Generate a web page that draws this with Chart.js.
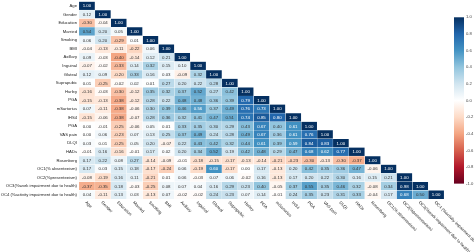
<!DOCTYPE html>
<html><head><meta charset="utf-8">
<script src="https://cdn.jsdelivr.net/npm/chart.js@4.4.0/dist/chart.umd.min.js"></script>
<style>
html,body{margin:0;padding:0;background:#fff;}
#wrap{position:relative;width:474px;height:252px;overflow:hidden;background:#fff;}
#main{position:absolute;left:0;top:0;width:474px;height:252px;}
</style></head><body>
<div id="wrap"><canvas id="main" width="474" height="252"></canvas></div>
<script>
const variables = ["Age","Gender","Education","Married","Smoking","BMI","Axillary","Inguinal","Gluteal","Suprapubic","Hurley","PGA","mSartorius","IHS4","PGA","VAS pain","DLQI","HADs","Rosenberg","OC1(% absenteeism)","OC2(%presenteeism)","OC3(%work impairment due to health)","OC4 (%activity impairment due to health)"];

const rAge = [1.00];
const rGender = [0.12, 1.00];
const rEducation = [-0.30, -0.04, 1.00];
const rMarried = [0.54, 0.20, 0.05, 1.00];
const rSmoking = [0.06, 0.20, -0.29, 0.01, 1.00];
const rBMI = [-0.04, -0.13, -0.11, -0.22, 0.06, 1.00];
const rAxillary = [0.09, -0.03, -0.40, -0.14, 0.12, 0.21, 1.00];
const rInguinal = [-0.07, -0.02, -0.33, 0.14, 0.32, 0.15, 0.10, 1.00];
const rGluteal = [0.12, 0.09, -0.20, 0.33, 0.16, 0.03, -0.09, 0.32, 1.00];
const rSuprapubic = [0.01, -0.25, -0.02, 0.02, 0.01, 0.27, 0.20, 0.22, 0.28, 1.00];
const rHurley = [-0.16, -0.03, -0.30, -0.12, 0.35, 0.32, 0.37, 0.52, 0.27, 0.42, 1.00];
const rPGA1 = [-0.15, -0.13, -0.38, -0.12, 0.28, 0.22, 0.48, 0.48, 0.36, 0.39, 0.79, 1.00];
const rSartorius = [0.07, -0.11, -0.38, -0.06, 0.30, 0.39, 0.46, 0.56, 0.37, 0.49, 0.76, 0.73, 1.00];
const rIHS4 = [-0.15, -0.06, -0.38, -0.07, 0.28, 0.36, 0.32, 0.41, 0.47, 0.51, 0.74, 0.85, 0.80, 1.00];
const rPGA2 = [0.00, -0.01, -0.25, -0.06, 0.05, 0.01, 0.33, 0.35, 0.30, 0.29, 0.43, 0.67, 0.40, 0.61, 1.00];
const rVAS = [0.00, 0.06, -0.23, 0.07, 0.13, 0.25, 0.37, 0.49, 0.24, 0.28, 0.49, 0.67, 0.36, 0.61, 0.76, 1.00];
const rDLQI = [0.03, 0.01, -0.25, 0.05, 0.20, -0.07, 0.22, 0.43, 0.42, 0.32, 0.44, 0.61, 0.39, 0.59, 0.84, 0.83, 1.00];
const rHADs = [-0.01, 0.16, -0.16, -0.01, 0.17, 0.02, 0.20, 0.34, 0.52, 0.19, 0.42, 0.48, 0.29, 0.47, 0.68, 0.62, 0.77, 1.00];
const rRosenberg = [0.17, 0.22, 0.08, 0.27, -0.14, -0.09, -0.01, -0.18, -0.15, -0.17, -0.13, -0.14, -0.21, -0.23, -0.30, -0.13, -0.30, -0.37, 1.00];
const rOC1 = [0.17, 0.03, 0.15, 0.18, -0.17, -0.24, 0.06, -0.19, 0.60, -0.17, 0.00, 0.17, -0.13, 0.20, 0.42, 0.35, 0.36, 0.47, -0.06, 1.00];
const rOC2 = [-0.08, -0.19, 0.16, 0.11, -0.21, 0.01, 0.06, -0.03, 0.07, 0.06, -0.02, 0.16, -0.13, 0.17, 0.20, 0.22, 0.30, 0.16, 0.15, 0.21, 1.00];
const rOC3 = [-0.37, -0.35, 0.18, -0.03, -0.25, 0.08, 0.07, 0.04, 0.16, 0.29, 0.23, 0.40, -0.05, 0.37, 0.55, 0.35, 0.46, 0.32, -0.08, 0.34, 0.98, 1.00];
const rOC4 = [0.04, -0.11, 0.13, 0.03, -0.13, 0.07, -0.02, -0.02, 0.24, 0.23, 0.07, 0.14, -0.01, 0.24, 0.35, 0.23, 0.31, 0.33, -0.04, 0.17, 0.68, 0.50, 1.00];

const corrRows = [rAge, rGender, rEducation, rMarried, rSmoking, rBMI, rAxillary, rInguinal, rGluteal, rSuprapubic, rHurley, rPGA1, rSartorius, rIHS4, rPGA2, rVAS, rDLQI, rHADs, rRosenberg, rOC1, rOC2, rOC3, rOC4];

const legendTicks = [1.0, 0.8, 0.6, 0.4, 0.2, 0.0, -0.2, -0.4, -0.6, -0.8, -1.0];

// RdBu palette (corrplot COL2) from -1 to 1
const palette = ["#67001F","#B2182B","#D6604D","#F4A582","#FDDBC7","#FFFFFF","#D1E5F0","#92C5DE","#4393C3","#2166AC","#053061"];
function hex2rgb(h){return [parseInt(h.slice(1,3),16),parseInt(h.slice(3,5),16),parseInt(h.slice(5,7),16)];}
function corrColor(v){
  const t = (Math.max(-1, Math.min(1, v)) + 1) / 2 * (palette.length - 1);
  const i = Math.min(palette.length - 2, Math.floor(t));
  const f = t - i;
  const a = hex2rgb(palette[i]), b = hex2rgb(palette[i+1]);
  const c = a.map((x, k) => Math.round(x + (b[k] - x) * f));
  return `rgb(${c[0]},${c[1]},${c[2]})`;
}

const FONT = '"Liberation Sans", Arial, sans-serif';
const n = variables.length;

const datasets = variables.map((v, j) => ({
  label: v,
  data: variables.map((_, i) => i >= j ? [j - 0.5, j + 0.5] : null),
  backgroundColor: variables.map((_, i) => i >= j ? corrColor(corrRows[i][j]) : 'rgba(0,0,0,0)'),
  borderColor: '#ffffff',
  borderWidth: 0.4,
  borderSkipped: false,
  grouped: false,
  barPercentage: 1,
  categoryPercentage: 1
}));

const cellText = {
  id: 'cellText',
  afterDatasetsDraw(chart) {
    const {ctx, scales: {x, y}} = chart;
    ctx.save();
    ctx.font = '4.4px ' + FONT;
    ctx.textAlign = 'center';
    ctx.textBaseline = 'middle';
    corrRows.forEach((row, i) => row.forEach((v, j) => {
      ctx.fillStyle = Math.abs(v) > 0.55 ? '#ffffff' : '#333333';
      ctx.fillText(v.toFixed(2), x.getPixelForValue(j), y.getPixelForValue(i) + 0.3);
    }));
    ctx.restore();
  }
};

const xLabels = {
  id: 'xLabels',
  afterDraw(chart) {
    const {ctx, scales: {x}, chartArea} = chart;
    ctx.save();
    ctx.font = '4.2px ' + FONT;
    ctx.fillStyle = '#222222';
    ctx.textAlign = 'left';
    ctx.textBaseline = 'middle';
    variables.forEach((v, j) => {
      ctx.save();
      ctx.translate(x.getPixelForValue(j) - 1, chartArea.bottom + 3);
      ctx.rotate(Math.PI / 4);
      ctx.fillText(v, 0, 0);
      ctx.restore();
    });
    ctx.restore();
  }
};

// colour legend drawn against the right-hand 'cb' scale
const colorBar = {
  id: 'colorBar',
  beforeDatasetsDraw(chart) {
    const {ctx} = chart;
    const cb = chart.scales.cb;
    const top = cb.getPixelForValue(1), bottom = cb.getPixelForValue(-1);
    const left = cb.left + 10, width = 10;
    const g = ctx.createLinearGradient(0, bottom, 0, top);
    palette.forEach((col, k) => g.addColorStop(k / (palette.length - 1), col));
    ctx.save();
    ctx.fillStyle = g;
    ctx.fillRect(left, top, width, bottom - top);
    ctx.restore();
  }
};

const noPad = s => { s.paddingTop = 0; s.paddingBottom = 0; };

new Chart(document.getElementById('main'), {
  type: 'bar',
  data: {labels: variables, datasets},
  options: {
    indexAxis: 'y',
    responsive: false,
    animation: false,
    layout: {padding: {left: 0, right: 0, top: 1.5, bottom: 0}},
    plugins: {legend: {display: false}, tooltip: {enabled: false}},
    scales: {
      x: {
        type: 'linear', min: -0.5, max: n - 0.5, position: 'bottom',
        grid: {display: false, drawTicks: false}, border: {display: false},
        ticks: {display: false},
        afterFit: s => { s.height = 53; s.paddingLeft = 0; s.paddingRight = 0; }
      },
      y: {
        type: 'category',
        grid: {display: false, drawTicks: false}, border: {display: false},
        ticks: {font: {family: FONT, size: 4.2}, color: '#222222', padding: 2, autoSkip: false},
        afterFit: s => { s.width = 79; noPad(s); }
      },
      cb: {
        type: 'linear', position: 'right', axis: 'y',
        min: -1.077, max: 1.082,
        afterBuildTicks: s => { s.ticks = legendTicks.map(v => ({value: v})); },
        grid: {display: false, drawTicks: false}, border: {display: false},
        ticks: {font: {family: FONT, size: 4.2}, color: '#444444', padding: 22, autoSkip: false,
                callback: v => Number(v).toFixed(1)},
        afterFit: s => { s.width = 30; noPad(s); }
      }
    }
  },
  plugins: [colorBar, cellText, xLabels]
});
</script>
</body></html>
